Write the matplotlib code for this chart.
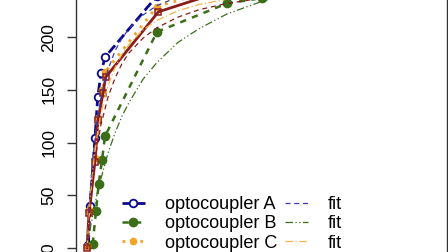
import matplotlib
matplotlib.use("Agg")
import matplotlib.pyplot as plt

plt.rcParams['font.family'] = ['Liberation Sans', 'DejaVu Sans']

# ---- data ----
xA = [0.2, 0.43, 1.14, 1.53, 2.0, 2.57, 10, 20]
vA = [3, 40, 104, 143, 166, 181, 239, 262]
xB = [0.81, 1.29, 1.67, 2.14, 2.57, 10, 20, 25, 30]
vB = [4, 35, 61, 83, 106, 205, 232, 237, 245]
xC = [0.05, 0.35, 1.1, 1.6, 2.2, 2.6, 10, 20]
vC = [2, 36, 85, 123, 150, 167, 229, 248]
xD = [0.0, 0.29, 1.14, 1.57, 2.29, 2.67, 10.2, 20]
vD = [0, 33, 82, 121, 147, 162, 224, 245]

xfit = [0, 0.5, 1, 1.5, 2, 3, 4, 5, 6, 8, 10, 13, 16, 20, 25, 30, 40, 50]
fitA = [0, 59, 96, 123, 142, 169, 187, 199, 208, 221, 230, 238, 244, 249, 253, 256, 259, 262]
fitB = [0, 20, 37, 53, 66, 90, 109, 125, 138, 160, 176, 195, 208, 222, 234, 243, 255, 263]
fitC = [0, 50, 84, 109, 128, 154, 171, 184, 193, 207, 216, 225, 231, 236, 241, 244, 248, 250]
fitD = [0, 44, 75, 99, 117, 143, 161, 175, 185, 199, 209, 219, 226, 232, 237, 241, 245, 248]

labels = ['optocoupler A', 'optocoupler B', 'optocoupler C', 'optocoupler D']
fit_label = 'fit'
yticks = [0, 50, 100, 150, 200]
ylabel = r'photodiode voltage  $\mathregular{V_{PD}}$ (mV)'

# ---- styles ----
cA, cB, cC, cD = '#0a0a8c', '#3b6e19', '#f4a422', '#8b1c1c'

W, H = 448, 252
fig = plt.figure(figsize=(W / 100, H / 100), dpi=100)
left, right = 76, 446.5
ybot_px, ytop_px = 260.6, -76.7
ax = fig.add_axes([left / W, (H - ybot_px) / H, (right - left) / W, (ybot_px - ytop_px) / H])
ax.set_xlim(-1.571, 51.36)
ax.set_ylim(-12, 308)

lA, = ax.plot(xA, vA, color=cA, lw=2.0, dashes=(3.5, 1.5), marker='o', ms=5.5,
              mfc='white', mec=cA, mew=1.3, label=labels[0])
lB, = ax.plot(xB, vB, color=cB, lw=1.8, dashes=(2.5, 2.5), marker='o', ms=6,
              mfc=cB, mec=cB, label=labels[1])
lC, = ax.plot(xC, vC, color=cC, lw=2.0, dashes=(1, 2.2), marker='o', ms=4.5,
              mfc=cC, mec=cC, label=labels[2])
lD, = ax.plot(xD, vD, color=cD, lw=2.0, ls='-', marker='s', ms=5,
              mfc='none', mec=cD, mew=1.1, label=labels[3])

fA, = ax.plot(xfit, fitA, color='#3a3ab0', lw=0.9, dashes=(4, 3), label=fit_label)
fB, = ax.plot(xfit, fitB, color=cB, lw=0.9, dashes=(6, 2, 1, 2, 1, 2), label=fit_label)
fC, = ax.plot(xfit, fitC, color='#f5b54a', lw=0.9, dashes=(6, 2, 1, 2), label=fit_label)
fD, = ax.plot(xfit, fitD, color=cD, lw=0.9, dashes=(4, 3), label=fit_label)

ax.set_yticks(yticks)
ax.set_yticklabels([str(t) for t in yticks], rotation=90, va='center', ha='right',
                   fontsize=12.5)
ax.tick_params(axis='y', length=6.5, width=1, color='#333333', pad=7.5)
ax.set_xticks([])
for s in ax.spines.values():
    s.set_color('#333333')
    s.set_linewidth(1)

ax.set_ylabel(ylabel, fontsize=12.5)
ax.yaxis.set_label_coords((2 - left) / (right - left), 0.5)

leg = fig.legend([lA, lB, lC, lD, fA, fB, fC, fD],
                 labels + [fit_label] * 4, ncol=2, frameon=False,
                 loc='upper left', bbox_to_anchor=(122 / W, 1 - 196 / H),
                 borderpad=0, borderaxespad=0, fontsize=13.1,
                 handlelength=1.26, handletextpad=1.1, columnspacing=0.4,
                 labelspacing=0.13, numpoints=1)

fig.savefig('out.png', dpi=100)
